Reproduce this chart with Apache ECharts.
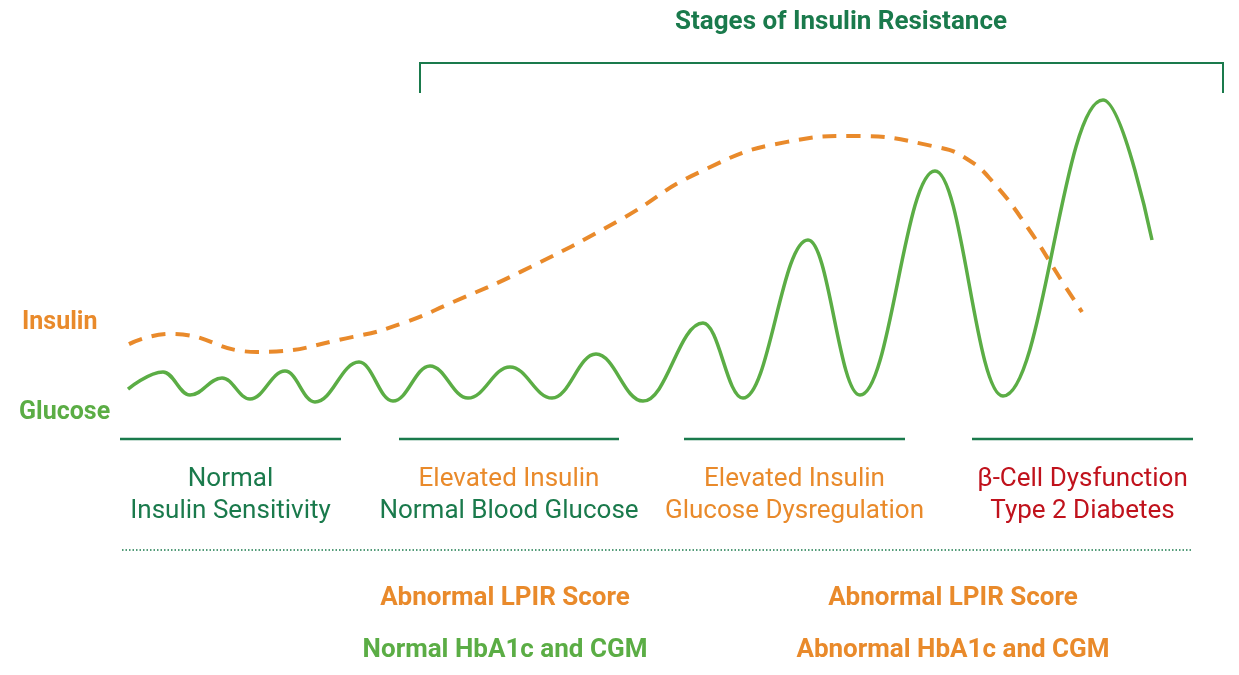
<!DOCTYPE html>
<html>
<head>
<meta charset="utf-8">
<script src="https://cdn.jsdelivr.net/npm/echarts@6/dist/echarts.min.js"></script>
<style>
html,body{margin:0;padding:0;background:#fff;}
#chart{width:1239px;height:675px;}
</style>
</head>
<body>
<div id="chart"></div>
<script>
// ---- data (time units on x, relative level on y) ----
var glucoseX = [0.8, 4.3, 7.0, 10.2, 13.0, 16.5, 19.5, 23.9, 27.3, 31.0, 34.8, 39.0, 43.2, 47.6, 52.3, 58.3, 62.3, 68.8, 74.0, 81.5, 88.3, 98.3, 103.2];
var glucoseY = [10.3, 16, 8.3, 14, 7, 16.3, 6, 19.3, 6.3, 18, 7.3, 17.7, 7.3, 22, 6.3, 32.3, 7.3, 60, 8.3, 83, 8, 106.7, 60];
var insulinX = [0.9, 5.0, 13.7, 23.3, 28.3, 33.3, 40.0, 50.0, 58.0, 66.7, 73.3, 81.7, 84.7, 87.3, 90.8, 94.3, 96.2];
var insulinY = [25.3, 28.7, 22.7, 27.7, 32.3, 39.3, 49.3, 66.7, 82.7, 92.7, 94.7, 91, 87, 79.3, 64, 45.7, 36];
var seriesNames = ['Insulin', 'Glucose'];
var chartTitle = 'Stages of Insulin Resistance';
var stageLine1 = ['Normal', 'Elevated Insulin', 'Elevated Insulin', '\u03b2-Cell Dysfunction'];
var stageLine2 = ['Insulin Sensitivity', 'Normal Blood Glucose', 'Glucose Dysregulation', 'Type 2 Diabetes'];
var testLine1 = ['Abnormal LPIR Score', 'Abnormal LPIR Score'];
var testLine2 = ['Normal HbA1c and CGM', 'Abnormal HbA1c and CGM'];

// ---- styles / layout ----
var DARK = '#1a7a4c', ORANGE = '#e98a2b', LIGHT = '#5bad45', RED = '#c0121c';
var FONT = 'Roboto, "Noto Sans", sans-serif';
var stageColors1 = [DARK, ORANGE, ORANGE, RED];
var stageColors2 = [DARK, DARK, ORANGE, RED];
var stageSegX = [[120, 341], [399, 619], [684, 905], [972, 1193]];
var testCenters = [505, 953];
var testColors2 = [LIGHT, ORANGE];

function pairs(xs, ys) { return xs.map(function (x, i) { return [x, ys[i]]; }); }

var graphic = [];
graphic.push({ type: 'text', x: 841, y: 22, style: { text: chartTitle, fill: DARK, font: 'bold 26px ' + FONT, textAlign: 'center', textVerticalAlign: 'middle' } });
graphic.push({ type: 'polyline', shape: { points: [[420, 93], [420, 63], [1223, 63], [1223, 93]] }, style: { stroke: DARK, lineWidth: 2, fill: null } });
graphic.push({ type: 'text', x: 22, y: 323, style: { text: seriesNames[0], fill: ORANGE, font: 'bold 25px ' + FONT, textVerticalAlign: 'middle' } });
graphic.push({ type: 'text', x: 19, y: 413, style: { text: seriesNames[1], fill: LIGHT, font: 'bold 25px ' + FONT, textVerticalAlign: 'middle' } });
stageSegX.forEach(function (s, i) {
  var cx = (s[0] + s[1]) / 2;
  graphic.push({ type: 'line', shape: { x1: s[0], y1: 439, x2: s[1], y2: 439 }, style: { stroke: DARK, lineWidth: 2.5 } });
  graphic.push({ type: 'text', x: cx, y: 479, style: { text: stageLine1[i], fill: stageColors1[i], font: '26px ' + FONT, textAlign: 'center', textVerticalAlign: 'middle' } });
  graphic.push({ type: 'text', x: cx, y: 511, style: { text: stageLine2[i], fill: stageColors2[i], font: '26px ' + FONT, textAlign: 'center', textVerticalAlign: 'middle' } });
});
graphic.push({ type: 'line', shape: { x1: 122, y1: 550, x2: 1193, y2: 550 }, style: { stroke: DARK, lineWidth: 1.5, lineDash: [1.5, 2] } });
testCenters.forEach(function (cx, i) {
  graphic.push({ type: 'text', x: cx, y: 598, style: { text: testLine1[i], fill: ORANGE, font: 'bold 26px ' + FONT, textAlign: 'center', textVerticalAlign: 'middle' } });
  graphic.push({ type: 'text', x: cx, y: 650, style: { text: testLine2[i], fill: testColors2[i], font: 'bold 26px ' + FONT, textAlign: 'center', textVerticalAlign: 'middle' } });
});

var chart = echarts.init(document.getElementById('chart'), null, { renderer: 'canvas' });
chart.setOption({
  animation: false,
  backgroundColor: '#ffffff',
  grid: { left: 120, right: 39, top: 90, bottom: 255 },
  xAxis: { type: 'value', min: 0, max: 108, show: false },
  yAxis: { type: 'value', min: 0, max: 110, show: false },
  graphic: graphic,
  series: [
    {
      name: seriesNames[0], type: 'line', data: pairs(insulinX, insulinY),
      smooth: 0.5, showSymbol: false, clip: false,
      lineStyle: { color: ORANGE, width: 4, type: [14, 10] }
    },
    {
      name: seriesNames[1], type: 'line', data: pairs(glucoseX, glucoseY),
      smooth: 0.4, smoothMonotone: 'x', showSymbol: false, clip: false,
      lineStyle: { color: LIGHT, width: 3.5 }
    }
  ]
});
</script>
</body>
</html>
